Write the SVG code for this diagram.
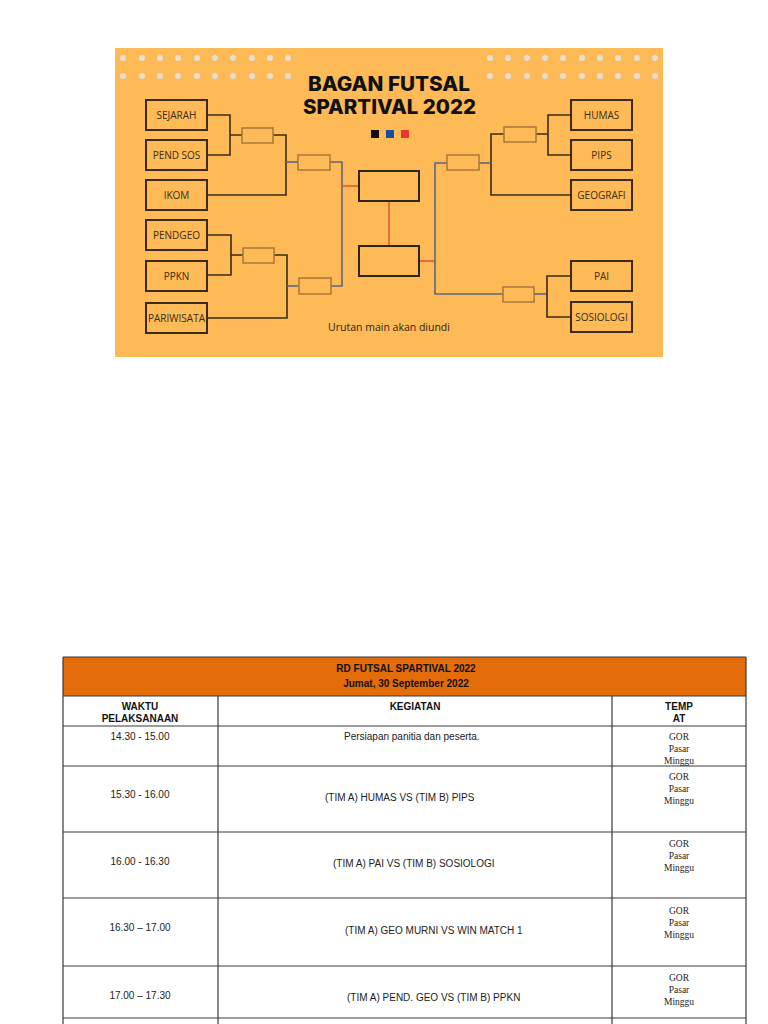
<svg xmlns="http://www.w3.org/2000/svg" width="768" height="1024" viewBox="0 0 768 1024">
<style>
.team{fill:none;stroke:#3b2c18;stroke-width:2}
.small{fill:none;stroke:#a9783a;stroke-width:1.5}
.center{fill:none;stroke:#2e2418;stroke-width:2}
.tl{font-family:"Open Sans","DejaVu Sans",sans-serif;font-size:10px;fill:#3b2c18;text-anchor:middle}
.dk{fill:none;stroke:#3b2c18;stroke-width:1.6}
.bl{fill:none;stroke:#5a6781;stroke-width:1.6}
.rd{fill:none;stroke:#e8553b;stroke-width:1.6}
.dot{fill:#e3dfd7}
.tb{fill:none;stroke:#3a3a3a;stroke-width:1.2}
.ta{font-family:"Liberation Sans",Arial,sans-serif;font-size:10px;fill:#222;text-anchor:middle}
.tk{font-family:"Liberation Sans",Arial,sans-serif;font-size:10px;fill:#222}
.th{font-family:"Liberation Sans",Arial,sans-serif;font-size:10px;font-weight:bold;fill:#111;text-anchor:middle}
.ts{font-family:"Liberation Serif","Times New Roman",serif;font-size:9.5px;fill:#222;text-anchor:middle}
</style>
<rect x="0" y="0" width="768" height="1024" fill="#ffffff"/>
<rect x="115" y="48" width="548" height="309" fill="#fdba56"/>
<g id="dots">
<circle class="dot" cx="123" cy="58" r="3"/><circle class="dot" cx="142" cy="58" r="3"/><circle class="dot" cx="160" cy="58" r="3"/><circle class="dot" cx="178" cy="58" r="3"/><circle class="dot" cx="197" cy="58" r="3"/><circle class="dot" cx="215" cy="58" r="3"/><circle class="dot" cx="233" cy="58" r="3"/><circle class="dot" cx="252" cy="58" r="3"/><circle class="dot" cx="270" cy="58" r="3"/><circle class="dot" cx="288" cy="58" r="3"/>
<circle class="dot" cx="123" cy="76" r="3"/><circle class="dot" cx="142" cy="76" r="3"/><circle class="dot" cx="160" cy="76" r="3"/><circle class="dot" cx="178" cy="76" r="3"/><circle class="dot" cx="197" cy="76" r="3"/><circle class="dot" cx="215" cy="76" r="3"/><circle class="dot" cx="233" cy="76" r="3"/><circle class="dot" cx="252" cy="76" r="3"/><circle class="dot" cx="270" cy="76" r="3"/><circle class="dot" cx="288" cy="76" r="3"/>
<circle class="dot" cx="490" cy="58" r="3"/><circle class="dot" cx="508" cy="58" r="3"/><circle class="dot" cx="527" cy="58" r="3"/><circle class="dot" cx="545" cy="58" r="3"/><circle class="dot" cx="563" cy="58" r="3"/><circle class="dot" cx="582" cy="58" r="3"/><circle class="dot" cx="600" cy="58" r="3"/><circle class="dot" cx="618" cy="58" r="3"/><circle class="dot" cx="637" cy="58" r="3"/><circle class="dot" cx="655" cy="58" r="3"/>
<circle class="dot" cx="490" cy="76" r="3"/><circle class="dot" cx="508" cy="76" r="3"/><circle class="dot" cx="527" cy="76" r="3"/><circle class="dot" cx="545" cy="76" r="3"/><circle class="dot" cx="563" cy="76" r="3"/><circle class="dot" cx="582" cy="76" r="3"/><circle class="dot" cx="600" cy="76" r="3"/><circle class="dot" cx="618" cy="76" r="3"/><circle class="dot" cx="637" cy="76" r="3"/><circle class="dot" cx="655" cy="76" r="3"/>
</g>
<g id="title">
<text x="389" y="91" font-family="Inter,'Open Sans',sans-serif" font-size="20" font-weight="800" fill="#111" text-anchor="middle" textLength="162" lengthAdjust="spacingAndGlyphs">BAGAN FUTSAL</text>
<text x="389.5" y="114" font-family="Inter,'Open Sans',sans-serif" font-size="20" font-weight="800" fill="#111" text-anchor="middle" textLength="173" lengthAdjust="spacingAndGlyphs">SPARTIVAL 2022</text>
<rect x="371" y="130" width="8" height="8" fill="#111"/>
<rect x="386" y="130" width="8" height="8" fill="#1c4aa3"/>
<rect x="401" y="130" width="8" height="8" fill="#e5392a"/>
</g>
<g id="connectors">
<path class="dk" d="M207 115 H230 V155 H207 M230 135 H242"/>
<path class="dk" d="M273 135 H286 V195 H207"/>
<path class="dk" d="M207 235 H231 V275 H207 M231 255 H243"/>
<path class="dk" d="M274 255 H287 V318 H207"/>
<path class="bl" d="M286 162 H298"/>
<path class="bl" d="M287 286 H299"/>
<path class="bl" d="M330 162 H342 V286 H331"/>
<path class="rd" d="M342 186 H359"/>
<path class="rd" d="M389 201 V246"/>
<path class="rd" d="M419 261 H435"/>
<path class="dk" d="M571 115 H548 V155 H571 M548 134 H536"/>
<path class="dk" d="M504 134 H491 V195 H571"/>
<path class="bl" d="M491 163 H479"/>
<path class="bl" d="M447 163 H435 V294 H503"/>
<path class="bl" d="M534 294 H547"/>
<path class="dk" d="M571 276 H547 V317 H571"/>
</g>
<g id="n-sejarah"><rect class="team" x="146" y="100" width="61" height="30"/><text class="tl" x="176.5" y="118.5">SEJARAH</text></g>
<g id="n-pendsos"><rect class="team" x="146" y="140" width="61" height="30"/><text class="tl" x="176.5" y="158.5">PEND SOS</text></g>
<g id="n-ikom"><rect class="team" x="146" y="180" width="61" height="30"/><text class="tl" x="176.5" y="198.5">IKOM</text></g>
<g id="n-pendgeo"><rect class="team" x="146" y="220" width="61" height="30"/><text class="tl" x="176.5" y="238.5">PENDGEO</text></g>
<g id="n-ppkn"><rect class="team" x="146" y="261" width="61" height="30"/><text class="tl" x="176.5" y="279.5">PPKN</text></g>
<g id="n-pariwisata"><rect class="team" x="146" y="303" width="61" height="30"/><text class="tl" x="176.5" y="321.5" textLength="57" lengthAdjust="spacingAndGlyphs">PARIWISATA</text></g>
<g id="n-humas"><rect class="team" x="571" y="100" width="61" height="30"/><text class="tl" x="601.5" y="118.5">HUMAS</text></g>
<g id="n-pips"><rect class="team" x="571" y="140" width="61" height="30"/><text class="tl" x="601.5" y="158.5">PIPS</text></g>
<g id="n-geografi"><rect class="team" x="571" y="180" width="61" height="30"/><text class="tl" x="601.5" y="198.5">GEOGRAFI</text></g>
<g id="n-pai"><rect class="team" x="571" y="261" width="61" height="30"/><text class="tl" x="601.5" y="279.5">PAI</text></g>
<g id="n-sosiologi"><rect class="team" x="571" y="302" width="61" height="30"/><text class="tl" x="601.5" y="320.5">SOSIOLOGI</text></g>
<g id="m-l1"><rect class="small" x="242" y="128" width="31" height="15"/></g>
<g id="m-l2"><rect class="small" x="298" y="155" width="32" height="15"/></g>
<g id="m-l3"><rect class="small" x="243" y="248" width="31" height="15"/></g>
<g id="m-l4"><rect class="small" x="299" y="278" width="32" height="16"/></g>
<g id="m-r1"><rect class="small" x="504" y="127" width="32" height="15"/></g>
<g id="m-r2"><rect class="small" x="447" y="155" width="32" height="15"/></g>
<g id="m-r3"><rect class="small" x="503" y="287" width="31" height="15"/></g>
<g id="final-top"><rect class="center" x="359" y="171" width="60" height="30"/></g>
<g id="final-bottom"><rect class="center" x="359" y="246" width="60" height="30"/></g>
<text x="389" y="331" font-family="'Open Sans',sans-serif" font-size="10.5" fill="#2e2418" text-anchor="middle">Urutan main akan diundi</text>

<g id="table">
<rect x="63" y="657" width="683" height="39" fill="#e36c0b"/>
<path class="tb" d="M63 657 H746 M63 657 V1024 M746 657 V1024 M63 696 H746 M218 696 V1024 M612 696 V1024 M63 726 H746 M63 766 H746 M63 832 H746 M63 898 H746 M63 966 H746 M63 1018 H746"/>
<text class="th" x="406" y="672">RD FUTSAL SPARTIVAL 2022</text>
<text class="th" x="406" y="687">Jumat, 30 September 2022</text>
<text class="th" x="140" y="710">WAKTU</text>
<text class="th" x="140" y="722">PELAKSANAAN</text>
<text class="th" x="415" y="710">KEGIATAN</text>
<text class="th" x="679" y="710">TEMP</text>
<text class="th" x="679" y="722">AT</text>

<text class="ta" x="140" y="739.5">14.30 - 15.00</text>
<text class="tk" x="344" y="739.5">Persiapan panitia dan peserta.</text>
<text class="ts" x="679" y="739.5">GOR</text><text class="ts" x="679" y="751.5">Pasar</text><text class="ts" x="679" y="763.5">Minggu</text>

<text class="ta" x="140" y="797.5">15.30 - 16.00</text>
<text class="tk" x="325" y="800.5">(TIM A) HUMAS VS (TIM B) PIPS</text>
<text class="ts" x="679" y="779.5">GOR</text><text class="ts" x="679" y="791.5">Pasar</text><text class="ts" x="679" y="803.5">Minggu</text>

<text class="ta" x="140" y="864.5">16.00 - 16.30</text>
<text class="tk" x="333" y="866.5">(TIM A) PAI VS (TIM B) SOSIOLOGI</text>
<text class="ts" x="679" y="846.5">GOR</text><text class="ts" x="679" y="858.5">Pasar</text><text class="ts" x="679" y="870.5">Minggu</text>

<text class="ta" x="140" y="930.5">16.30 – 17.00</text>
<text class="tk" x="345" y="933.5">(TIM A) GEO MURNI VS WIN MATCH 1</text>
<text class="ts" x="679" y="913.5">GOR</text><text class="ts" x="679" y="925.5">Pasar</text><text class="ts" x="679" y="937.5">Minggu</text>

<text class="ta" x="140" y="998.5">17.00 – 17.30</text>
<text class="tk" x="347" y="1000.5">(TIM A) PEND. GEO VS (TIM B) PPKN</text>
<text class="ts" x="679" y="980.5">GOR</text><text class="ts" x="679" y="992.5">Pasar</text><text class="ts" x="679" y="1004.5">Minggu</text>
</g>
</svg>
